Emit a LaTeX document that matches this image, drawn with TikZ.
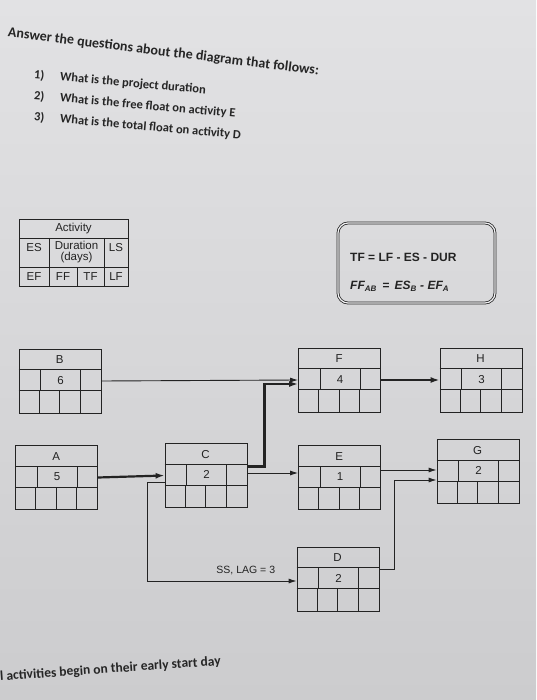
\documentclass[tikz,border=0pt]{standalone}
\usepackage{fontspec}
\setmainfont{Carlito}
\newfontfamily\arialfont{Liberation Sans}
\usetikzlibrary{arrows.meta,calc}

\definecolor{paperTop}{RGB}{226,226,228}
\definecolor{paperBot}{RGB}{204,204,206}
\definecolor{ink}{RGB}{35,35,35}

% one activity box: name, position, letter, duration
\newcommand{\activity}[4]{%
  \node[actbox] (#1) at #2 {};
  \begin{scope}[shift={(#1.north west)}]
    \draw[boxline] (0,21) -- (82,21) (0,42) -- (82,42);
    \draw[boxline] (22,21) -- (22,42) (62,21) -- (62,42);
    \draw[boxline] (20.5,42) -- (20.5,64) (41,42) -- (41,64) (61.5,42) -- (61.5,64);
    \node[boxtext] (#1-name) at (41,11) {#3};
    \node[boxtext] (#1-dur) at (42,31.5) {#4};
  \end{scope}}

\begin{document}
\begin{tikzpicture}[x=1pt, y=-1pt,
  every node/.style={font=\arialfont\fontsize{10.5}{12}\selectfont, text=ink},
  actbox/.style={draw=ink, line width=0.8pt, minimum width=82pt, minimum height=64pt, inner sep=0pt},
  boxline/.style={draw=ink, line width=0.8pt},
  boxtext/.style={inner sep=0pt, font=\arialfont\fontsize{11.5}{12}\selectfont},
  legend/.style={font=\arialfont\fontsize{11.5}{12}\selectfont, inner sep=0pt},
  formula/.style={font=\arialfont\bfseries\fontsize{12}{13}\selectfont, anchor=west, inner sep=0pt},
  formulabox/.style={draw=ink, line width=0.8pt, double=paperTop!50!white, double distance=1.2pt,
    rounded corners=10pt, minimum width=157pt, minimum height=80pt},
  question/.style={font=\bfseries\fontsize{12.5}{14}\selectfont, anchor=west, inner sep=0pt, text=black!85},
  link/.style={draw=ink, line width=0.9pt, -{Latex[length=8pt,width=5pt]}},
  critical/.style={link, line width=2.2pt, -{Latex[length=9pt,width=6pt]}}]

  \useasboundingbox (0,0) rectangle (536,700);
  \shade[top color=paperTop, bottom color=paperBot] (0,0) rectangle (536,700);

  % Questions
  \node[question, font=\bfseries\fontsize{14}{16}\selectfont, rotate=-7] (title) at (8,33) {Answer the questions about the diagram that follows:};
  \node[question, rotate=-5] (q1) at (34,75) {\makebox[26pt][l]{1)}What is the project duration};
  \node[question, rotate=-5] (q2) at (34,96) {\makebox[26pt][l]{2)}What is the free float on activity E};
  \node[question, rotate=-5] (q3) at (34,117) {\makebox[26pt][l]{3)}What is the total float on activity D};

  % Legend of a box
  \draw[boxline] (19,219) rectangle (128,286);
  \draw[boxline] (19,238) -- (128,238) (19,267) -- (128,267);
  \draw[boxline] (49,238) -- (49,286) (104,238) -- (104,286) (77,267) -- (77,286);
  \node[legend] (lg-act) at (73.5,228.5) {Activity};
  \node[legend] (lg-es) at (34,248) {ES};
  \node[legend, align=center] (lg-dur) at (76.5,252.5) {Duration\\[-1pt](days)};
  \node[legend] (lg-ls) at (116,248) {LS};
  \node[legend] (lg-ef) at (34,277) {EF};
  \node[legend] (lg-ff) at (63,277) {FF};
  \node[legend] (lg-tf) at (90.5,277) {TF};
  \node[legend] (lg-lf) at (116,277) {LF};

  % Formulas
  \node[formulabox] (formulas) at (416.5,263) {};
  \node[formula] (tf) at (350,257) {TF = LF - ES - DUR};
  \node[formula] (ff) at (350,286) {\itshape FF\textsubscript{AB} \,=\, ES\textsubscript{B} - EF\textsubscript{A}};

  % Activities
  \activity{B}{(60,381)}{B}{6}
  \activity{F}{(339.5,380)}{F}{4}
  \activity{H}{(481,380)}{H}{3}
  \activity{A}{(56.5,477.5)}{A}{5}
  \activity{C}{(206,475.5)}{C}{2}
  \activity{E}{(339.5,477.5)}{E}{1}
  \activity{G}{(478,471.5)}{G}{2}
  \activity{D}{(338,579)}{D}{2}

  % Links
  \draw[link] (B.east) -- (F.west);
  \draw[critical] (F.east) -- (H.west);
  \draw[critical] (A.east) -- (C.west);
  \draw[critical] ($(C.east)+(0,-9)$) -- ++(17,0) |- ($(F.west)+(0,4)$);
  \draw[link] ($(C.east)+(0,-2.5)$) -- ($(E.west)+(0,-4.5)$);
  \draw[link] ($(E.east)+(0,-7.5)$) -- ($(G.west)+(0,-1.5)$);
  \draw[link] ($(D.east)+(0,-10)$) -- ++(15,0) |- ($(G.west)+(0,8.5)$);
  \draw[link] ($(C.west)+(0,7)$) -- ++(-17.5,0) |- ($(D.west)+(0,2)$)
    node[pos=0.83, above=2pt] (lag) {SS, LAG = 3};

  % Note
  \node[question, font=\bfseries\fontsize{13.5}{15}\selectfont, rotate=4] (note) at (0,677) {l activities begin on their early start day};

\end{tikzpicture}
\end{document}
